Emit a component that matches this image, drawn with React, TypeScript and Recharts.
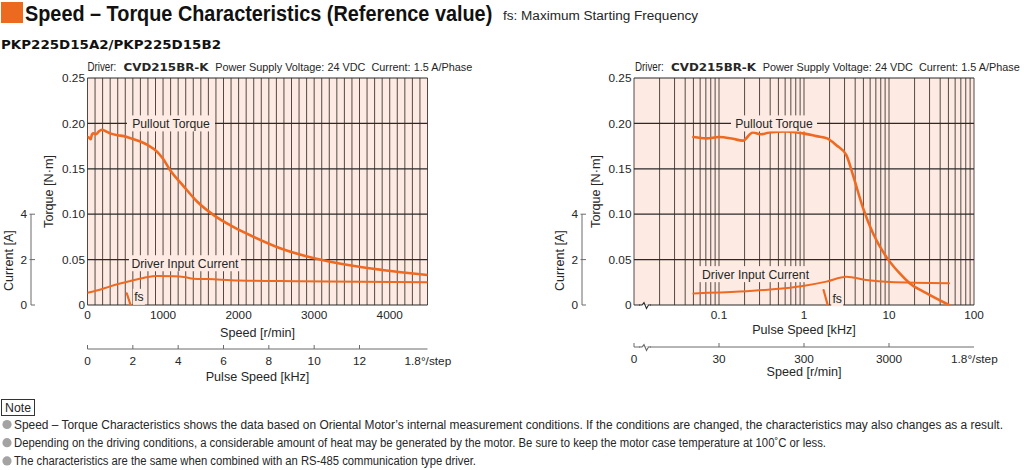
import React from 'react'
import { LineChart, Line, XAxis, YAxis, CartesianGrid, ReferenceDot } from 'recharts'

const ORANGE = '#ef6a20'
const TITLE_ORANGE = '#ec6a1f'
const PLOT_BG = '#fdebe3'
const GRID_V = '#544844'
const GRID_H = '#2a2a2a'
const AXIS = '#6a6a6a'
const INK = '#262626'
const SANS = "'Liberation Sans', Arial, Helvetica, sans-serif"
const WIDE = "'DejaVu Sans', Verdana, sans-serif"

const PLOT_TOP = 18
const PLOT_H = 227
const CHART_H = 330

// shared vertical axes
const TORQUE_TICKS = [0, 0.05, 0.1, 0.15, 0.2, 0.25]
const TORQUE_LABELS = ['0', '0.05', '0.10', '0.15', '0.20', '0.25']
const CURRENT_TICKS = [0, 2, 4]
const CURRENT_MAX = 10 // 4 A lines up with 0.10 N·m

// left chart: speed in r/min, pulse speed in kHz
const SPEED_GRID = Array.from({ length: 46 }, (_, i) => i * 100)
const SPEED_LABELS = [0, 1000, 2000, 3000, 4000]
const PULSE_TICKS = [0, 2, 4, 6, 8, 10, 12]
const PULSE_MAX = 15 // 4500 r/min at 1.8°/step

const leftPulloutSpeed = [0, 25, 42, 60, 80, 112, 150, 188, 250, 300, 400, 480, 560, 700, 800, 920, 1000, 1090, 1270, 1450, 1670, 1930, 2200, 2550, 3000, 3450, 3900, 4500]
const leftPulloutTorque = [0.185, 0.184, 0.1825, 0.188, 0.189, 0.188, 0.191, 0.193, 0.191, 0.189, 0.187, 0.186, 0.184, 0.18, 0.176, 0.169, 0.161, 0.149, 0.131, 0.114, 0.099, 0.086, 0.075, 0.0625, 0.0515, 0.044, 0.0386, 0.033]

const leftCurrentSpeed = [0, 150, 300, 560, 750, 920, 1150, 1300, 1400, 1600, 2000, 2800, 4500]
const leftCurrentAmps = [0.54, 0.66, 0.82, 1.05, 1.2, 1.28, 1.27, 1.22, 1.16, 1.14, 1.08, 1.05, 1.0]

const leftFsSpeed = [520, 570]
const leftFsTorque = [0.0129, 0]

// right chart: pulse speed in kHz (log), speed in r/min
const FREQ_LABELS = [0.1, 1, 10, 100]
const FREQ_GRID = [0.01, 0.1, 1, 10].flatMap(d => [1, 2, 3, 4, 5, 6, 7, 8, 9].map(m => d * m)).concat(100)
const RPM_TICKS = [3, 30, 300, 3000]
const RPM_LABELS = ['0', '30', '300', '3000']

const rightPulloutFreq = [0.05, 0.071, 0.1, 0.146, 0.19, 0.25, 0.315, 0.39, 0.62, 0.97, 1.4, 1.87, 2.4, 3.15, 3.77, 4.94, 6.48, 9.3, 13.3, 17.5, 27.5, 50.8]
const rightPulloutTorque = [0.185, 0.1835, 0.185, 0.183, 0.181, 0.19, 0.188, 0.19, 0.191, 0.189, 0.186, 0.1835, 0.176, 0.165, 0.143, 0.107, 0.079, 0.053, 0.035, 0.024, 0.013, 0]

const rightCurrentFreq = [0.05, 0.175, 0.43, 0.97, 1.83, 3.15, 5.41, 10.2, 50.8]
const rightCurrentAmps = [0.51, 0.59, 0.69, 0.84, 1.03, 1.25, 1.1, 1.01, 0.96]

const rightFsFreq = [1.7, 1.9]
const rightFsTorque = [0.0165, 0]

const NOTES = [
  'Speed – Torque Characteristics shows the data based on Oriental Motor’s internal measurement conditions. If the conditions are changed, the characteristics may also changes as a result.',
  'Depending on the driving conditions, a considerable amount of heat may be generated by the motor. Be sure to keep the motor case temperature at 100˚C or less.',
  'The characteristics are the same when combined with an RS-485 communication type driver.'
]
const NOTE_WIDTHS = [989, 812, 462]

const leftPullout = leftPulloutSpeed.map((speed, i) => ({ speed, torque: leftPulloutTorque[i] }))
const leftCurrent = leftCurrentSpeed.map((speed, i) => ({ speed, current: leftCurrentAmps[i] }))
const leftFs = leftFsSpeed.map((speed, i) => ({ speed, torque: leftFsTorque[i] }))
const rightPullout = rightPulloutFreq.map((freq, i) => ({ freq, torque: rightPulloutTorque[i] }))
const rightCurrent = rightCurrentFreq.map((freq, i) => ({ freq, current: rightCurrentAmps[i] }))
const rightFs = rightFsFreq.map((freq, i) => ({ freq, torque: rightFsTorque[i] }))

const tickText = { fontSize: 11.8, fontFamily: SANS, fill: INK }
const titleText = { fontSize: 12.6, fontFamily: SANS, fill: INK }

function TorqueTick({ x, y, payload }: any) {
  const i = TORQUE_TICKS.indexOf(payload.value)
  return (
    <text x={x - 2.5} y={y} dy="0.36em" textAnchor="end" {...tickText}>
      {i >= 0 ? TORQUE_LABELS[i] : payload.value}
    </text>
  )
}

// short stub axis for current: vertical segment from each tick down to the next
function CurrentTick({ x, y, payload }: any) {
  const v = payload.value
  const lx = x - 5
  return (
    <g>
      {v > 0 && <line x1={lx} y1={y} x2={lx} y2={y + (PLOT_H * 2) / CURRENT_MAX} stroke={AXIS} />}
      <line x1={v > 0 ? x - 6.5 : lx} y1={y} x2={x - 1} y2={y} stroke={AXIS} />
      <text x={x - 9} y={y} dy="0.36em" textAnchor="end" {...tickText}>{v}</text>
    </g>
  )
}

function SpeedTick({ x, y, payload }: any) {
  if (!SPEED_LABELS.includes(payload.value)) return <g />
  return <text x={x} y={y + 13.5} textAnchor="middle" {...tickText}>{payload.value}</text>
}

function PulseTick({ x, y, payload }: any) {
  return (
    <g>
      <line x1={x} y1={y - 4} x2={x} y2={y} stroke={AXIS} />
      <text x={x} y={y + 15.5} textAnchor="middle" {...tickText}>{payload.value}</text>
    </g>
  )
}

// axis break drawn next to the origin of a log axis
function BreakMark({ x, y, stroke }: { x: number; y: number; stroke: string }) {
  return (
    <g>
      <rect x={x + 6} y={y - 0.6} width={10} height={2.8} fill="#fff" />
      <path
        d={`M${x + 5},${y} L${x + 8},${y} L${x + 10},${y - 2.5} L${x + 12.5},${y + 3.5} L${x + 14.5},${y} L${x + 17},${y}`}
        stroke={stroke}
        strokeWidth={1.1}
        fill="none"
      />
    </g>
  )
}

function FreqTick({ x, y, payload }: any) {
  const v = payload.value
  return (
    <g>
      {v === FREQ_GRID[0] && <BreakMark x={x} y={y} stroke={GRID_H} />}
      {FREQ_LABELS.includes(v) && (
        <text x={x} y={y + 13.5} textAnchor="middle" {...tickText}>{v}</text>
      )}
    </g>
  )
}

function RpmTick({ x, y, payload }: any) {
  const i = RPM_TICKS.indexOf(payload.value)
  return (
    <g>
      <line x1={x} y1={y - 4} x2={x} y2={y} stroke={AXIS} />
      {i === 0 && <BreakMark x={x} y={y} stroke={AXIS} />}
      <text x={x} y={y + 15.8} textAnchor="middle" {...tickText}>{RPM_LABELS[i]}</text>
    </g>
  )
}

const bottomTitle = (text: string, dy: number, stepDy?: number) => (props: any) => {
  const { x, y, width } = props.viewBox
  return (
    <g>
      <text x={x + width / 2} y={y + dy} textAnchor="middle" {...titleText}>{text}</text>
      {stepDy !== undefined && (
        <text x={x + 317} y={y + stepDy} {...tickText}>1.8°/step</text>
      )}
    </g>
  )
}

const sideTitle = (text: string, cx: (vb: any) => number, cy: (vb: any) => number) => (props: any) => {
  const vb = props.viewBox
  const px = cx(vb)
  const py = cy(vb)
  return (
    <text x={px} y={py} dy="0.36em" textAnchor="middle" transform={`rotate(-90 ${px} ${py})`} {...titleText}>
      {text}
    </text>
  )
}

const torqueTitle = sideTitle('Torque [N·m]', vb => vb.x + vb.width - 39, vb => vb.y + vb.height / 2)
const currentTitle = sideTitle(
  'Current [A]',
  vb => vb.x + vb.width - 27.5,
  vb => vb.y + vb.height * (1 - 2 / CURRENT_MAX) + 1
)

function Tag({ cx, cy, text, w }: { cx: number; cy: number; text: string; w: number }) {
  return (
    <g>
      <rect x={cx - w / 2} y={cy - 8} width={w} height={16} fill={PLOT_BG} />
      <text x={cx} y={cy} dy="0.36em" textAnchor="middle" fontSize={12.2} fontFamily={SANS} fill={INK}>
        {text}
      </text>
    </g>
  )
}

const lineProps = {
  dot: false,
  activeDot: false,
  isAnimationActive: false,
  stroke: ORANGE,
  strokeLinecap: 'round' as const,
  strokeLinejoin: 'round' as const
}

function SpeedChart() {
  return (
    <LineChart width={460} height={CHART_H} margin={{ top: PLOT_TOP, right: 32.5, bottom: 0, left: 0 }}>
      <CartesianGrid horizontal={false} stroke={GRID_V} fill={PLOT_BG} fillOpacity={1} />
      <CartesianGrid vertical={false} stroke={GRID_H} strokeWidth={1.2} />
      <XAxis
        dataKey="speed"
        type="number"
        domain={[0, 4500]}
        ticks={SPEED_GRID}
        interval={0}
        allowDataOverflow
        axisLine={false}
        tickLine={false}
        tickSize={0}
        tickMargin={0}
        height={44}
        tick={SpeedTick}
        label={{ content: bottomTitle('Speed [r/min]', 31.5) }}
      />
      <XAxis
        xAxisId="pulse"
        dataKey="pulse"
        type="number"
        domain={[0, PULSE_MAX]}
        ticks={PULSE_TICKS}
        interval={0}
        allowDataOverflow
        axisLine={{ stroke: AXIS }}
        tickLine={false}
        tickSize={0}
        tickMargin={0}
        height={CHART_H - PLOT_TOP - PLOT_H - 44}
        tick={PulseTick}
        label={{ content: bottomTitle('Pulse Speed [kHz]', 31.5, 15.5) }}
      />
      <YAxis
        type="number"
        domain={[0, 0.25]}
        ticks={TORQUE_TICKS}
        interval={0}
        allowDataOverflow
        width={51.5}
        axisLine={false}
        tickLine={false}
        tickSize={0}
        tickMargin={0}
        tick={TorqueTick}
        label={{ content: torqueTitle }}
      />
      <YAxis
        yAxisId="current"
        type="number"
        domain={[0, CURRENT_MAX]}
        ticks={CURRENT_TICKS}
        interval={0}
        allowDataOverflow
        width={36}
        axisLine={false}
        tickLine={false}
        tickSize={0}
        tickMargin={0}
        tick={CurrentTick}
        label={{ content: currentTitle }}
      />
      <Line data={leftPullout} dataKey="torque" type="monotone" strokeWidth={2.6} {...lineProps} />
      <Line data={leftCurrent} dataKey="current" yAxisId="current" type="monotone" strokeWidth={2} {...lineProps} />
      <Line data={leftFs} dataKey="torque" type="linear" strokeWidth={2.2} {...lineProps} />
      <ReferenceDot x={1105} y={0.2} r={0} ifOverflow="visible" shape={(p: any) => <Tag cx={p.cx} cy={p.cy} text="Pullout Torque" w={88} />} />
      <ReferenceDot x={1290} y={0.046} r={0} ifOverflow="visible" shape={(p: any) => <Tag cx={p.cx} cy={p.cy} text="Driver Input Current" w={112} />} />
      <ReferenceDot x={680} y={0.009} r={0} ifOverflow="visible" shape={(p: any) => <Tag cx={p.cx} cy={p.cy} text="fs" w={12} />} />
    </LineChart>
  )
}

function PulseChart() {
  return (
    <LineChart width={484} height={CHART_H} margin={{ top: PLOT_TOP, right: 50, bottom: 0, left: 0 }}>
      <CartesianGrid horizontal={false} stroke={GRID_V} fill={PLOT_BG} fillOpacity={1} />
      <CartesianGrid vertical={false} stroke={GRID_H} strokeWidth={1.2} />
      <XAxis
        dataKey="freq"
        type="number"
        scale="log"
        domain={[0.01, 100]}
        ticks={FREQ_GRID}
        interval={0}
        allowDataOverflow
        axisLine={false}
        tickLine={false}
        tickSize={0}
        tickMargin={0}
        height={42}
        tick={FreqTick}
        label={{ content: bottomTitle('Pulse Speed [kHz]', 28.5) }}
      />
      <XAxis
        xAxisId="rpm"
        dataKey="rpm"
        type="number"
        scale="log"
        domain={[3, 30000]}
        ticks={RPM_TICKS}
        interval={0}
        allowDataOverflow
        axisLine={{ stroke: AXIS }}
        tickLine={false}
        tickSize={0}
        tickMargin={0}
        height={CHART_H - PLOT_TOP - PLOT_H - 42}
        tick={RpmTick}
        label={{ content: bottomTitle('Speed [r/min]', 28.5, 15.8) }}
      />
      <YAxis
        type="number"
        domain={[0, 0.25]}
        ticks={TORQUE_TICKS}
        interval={0}
        allowDataOverflow
        width={47}
        axisLine={false}
        tickLine={false}
        tickSize={0}
        tickMargin={0}
        tick={TorqueTick}
        label={{ content: torqueTitle }}
      />
      <YAxis
        yAxisId="current"
        type="number"
        domain={[0, CURRENT_MAX]}
        ticks={CURRENT_TICKS}
        interval={0}
        allowDataOverflow
        width={47}
        axisLine={false}
        tickLine={false}
        tickSize={0}
        tickMargin={0}
        tick={CurrentTick}
        label={{ content: currentTitle }}
      />
      <Line data={rightPullout} dataKey="torque" type="monotone" strokeWidth={2.6} {...lineProps} />
      <Line data={rightCurrent} dataKey="current" yAxisId="current" type="monotone" strokeWidth={2} {...lineProps} />
      <Line data={rightFs} dataKey="torque" type="linear" strokeWidth={2.2} {...lineProps} />
      <ReferenceDot x={0.444} y={0.2} r={0} ifOverflow="visible" shape={(p: any) => <Tag cx={p.cx} cy={p.cy} text="Pullout Torque" w={86} />} />
      <ReferenceDot x={0.269} y={0.034} r={0} ifOverflow="visible" shape={(p: any) => <Tag cx={p.cx} cy={p.cy} text="Driver Input Current" w={116} />} />
      <ReferenceDot x={2.46} y={0.0074} r={0} ifOverflow="visible" shape={(p: any) => <Tag cx={p.cx} cy={p.cy} text="fs" w={12} />} />
    </LineChart>
  )
}

function DriverLine({ x }: { x: number }) {
  return (
    <g fill={INK}>
      <text x={x} y={71} fontFamily={SANS} fontSize={12} textLength={28.7} lengthAdjust="spacingAndGlyphs">Driver:</text>
      <text x={x + 36} y={71} fontFamily={WIDE} fontWeight="bold" fontSize={10.6} textLength={85} lengthAdjust="spacingAndGlyphs">CVD215BR-K</text>
      <text x={x + 127.7} y={71} fontFamily={SANS} fontSize={11.6} textLength={257} lengthAdjust="spacingAndGlyphs" style={{ whiteSpace: 'pre' }}>
        Power Supply Voltage: 24 VDC  Current: 1.5 A/Phase
      </text>
    </g>
  )
}

export default function App() {
  return (
    <div style={{ position: 'absolute', left: 0, top: 0, width: 1024, height: 470, background: '#fff', overflow: 'hidden' }}>
      <svg width={1024} height={470} style={{ position: 'absolute', left: 0, top: 0 }}>
        <rect x={1} y={2} width={22} height={21} fill={TITLE_ORANGE} />
        {/* bold sans squeezed horizontally for a condensed heading */}
        <g transform="translate(25 20.7) scale(0.88 1)">
          <text x={0} y={0} fontFamily={SANS} fontWeight="bold" fontSize={22.5} fill="#111" textLength={531} lengthAdjust="spacingAndGlyphs">
            Speed – Torque Characteristics (Reference value)
          </text>
        </g>
        <text x={503} y={19.5} fontFamily={SANS} fontSize={12.5} fill={INK} textLength={195} lengthAdjust="spacingAndGlyphs">
          fs: Maximum Starting Frequency
        </text>
        <text x={1} y={49.3} fontFamily={WIDE} fontWeight="bold" fontSize={12} fill="#111" textLength={220} lengthAdjust="spacingAndGlyphs">
          PKP225D15A2/PKP225D15B2
        </text>
        <DriverLine x={87.5} />
        <DriverLine x={635} />

        <rect x={1.5} y={399.5} width={33} height={16} fill="#fff" stroke="#333" />
        <text x={5} y={412} fontFamily={SANS} fontSize={12} fill={INK} textLength={26} lengthAdjust="spacingAndGlyphs">Note</text>
        {NOTES.map((t, i) => (
          <g key={i}>
            <circle cx={7} cy={424.5 + i * 18.2} r={4.6} fill="#a3a3a3" />
            <text
              x={14}
              y={429 + i * 18.2}
              fontFamily={SANS}
              fontSize={12}
              fill={INK}
              textLength={NOTE_WIDTHS[i]}
              lengthAdjust="spacingAndGlyphs"
            >
              {t}
            </text>
          </g>
        ))}
      </svg>
      <div style={{ position: 'absolute', left: 0, top: 60 }}>
        <SpeedChart />
      </div>
      <div style={{ position: 'absolute', left: 540, top: 60 }}>
        <PulseChart />
      </div>
    </div>
  )
}
